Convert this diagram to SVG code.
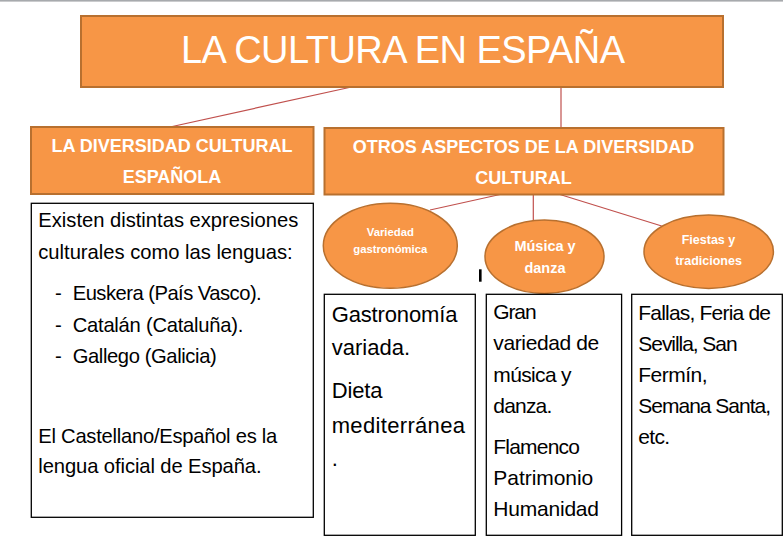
<svg xmlns="http://www.w3.org/2000/svg" width="783" height="549" viewBox="0 0 783 549">
<style>
.hdr{fill:#F79646;stroke:#B8702F;stroke-width:2}
.ell{fill:#F79646;stroke:#B8702F;stroke-width:1.5}
.box{fill:#FFFFFF;stroke:#000000;stroke-width:1.3}
.con line{stroke:#C0504D;stroke-width:1.2;fill:none}
.ht{font-family:"Liberation Sans",Arial,sans-serif;font-weight:bold;fill:#FFFFFF;text-anchor:middle}
.bt{font-family:"Liberation Sans",Arial,sans-serif;fill:#000000}
</style>
<rect x="0" y="0" width="783" height="549" fill="#FFFFFF"/>
<rect x="0" y="0" width="783" height="1.6" fill="#A7AAAD"/>
<g class="con" id="connectors">
<line x1="351.5" y1="87" x2="170" y2="127"/>
<line x1="561" y1="87" x2="561" y2="128"/>
<line x1="500" y1="194.5" x2="430" y2="210"/>
<line x1="533.3" y1="194.5" x2="533.3" y2="220"/>
<line x1="560" y1="194.5" x2="661.7" y2="226"/>
</g>
<g id="title">
<rect class="hdr" x="81" y="16" width="642" height="71"/>
<text x="403" y="63.3" font-family="Liberation Sans, Arial, sans-serif" font-size="38" fill="#FFFFFF" text-anchor="middle" textLength="444">LA CULTURA EN ESPAÑA</text>
</g>
<g id="diversidad">
<rect class="hdr" x="31" y="127" width="282.5" height="67"/>
<text class="ht" x="172" y="151.7" font-size="18">LA DIVERSIDAD CULTURAL</text>
<text class="ht" x="172" y="182.7" font-size="18">ESPAÑOLA</text>
</g>
<g id="otros">
<rect class="hdr" x="324.5" y="128" width="399" height="66.5"/>
<text class="ht" x="523.5" y="153" font-size="18">OTROS ASPECTOS DE LA DIVERSIDAD</text>
<text class="ht" x="523.5" y="184.3" font-size="18">CULTURAL</text>
</g>
<g id="gastronomia">
<ellipse class="ell" cx="390.3" cy="245.8" rx="67" ry="42.5"/>
<text class="ht" x="390.3" y="235.7" font-size="11.3">Variedad</text>
<text class="ht" x="390.3" y="252.7" font-size="11.3">gastronómica</text>
</g>
<g id="musica">
<ellipse class="ell" cx="544.5" cy="256.7" rx="59.5" ry="36.7"/>
<text class="ht" x="545" y="251" font-size="14.5">Música y</text>
<text class="ht" x="545" y="273.3" font-size="14.5">danza</text>
</g>
<g id="fiestas">
<ellipse class="ell" cx="708.7" cy="251.7" rx="64.7" ry="36.7"/>
<text class="ht" x="708.5" y="244.3" font-size="12.5">Fiestas y</text>
<text class="ht" x="708.5" y="265" font-size="12.5">tradiciones</text>
</g>
<rect x="479" y="269.3" width="2.6" height="12.4" fill="#000000"/>
<g id="lenguas">
<rect class="box" x="31.3" y="203.3" width="282" height="314"/>
<text class="bt" font-size="20.2" x="38.3" y="227.3" textLength="260">Existen distintas expresiones</text>
<text class="bt" font-size="20.2" x="38.3" y="259.3" textLength="254.3">culturales como las lenguas:</text>
<text class="bt" font-size="20.2" x="55" y="300">-</text>
<text class="bt" font-size="20.2" x="72.7" y="300" textLength="189">Euskera (País Vasco).</text>
<text class="bt" font-size="20.2" x="55" y="331.7">-</text>
<text class="bt" font-size="20.2" x="72.7" y="331.7" textLength="170.7">Catalán (Cataluña).</text>
<text class="bt" font-size="20.2" x="55" y="362.7">-</text>
<text class="bt" font-size="20.2" x="72.7" y="362.7" textLength="144">Gallego (Galicia)</text>
<text class="bt" font-size="20.2" x="38.3" y="443.3" textLength="239">El Castellano/Español es la</text>
<text class="bt" font-size="20.2" x="38.3" y="473.3" textLength="223.3">lengua oficial de España.</text>
</g>
<g id="gastro-box">
<rect class="box" x="324.3" y="294.3" width="151" height="241"/>
<text class="bt" font-size="22" x="331.7" y="322.3" textLength="125.7">Gastronomía</text>
<text class="bt" font-size="22" x="331.7" y="355" textLength="78.3">variada.</text>
<text class="bt" font-size="22" x="331.7" y="398.3" textLength="50.7">Dieta</text>
<text class="bt" font-size="22" x="331.7" y="432.7" textLength="133.3">mediterránea</text>
<text class="bt" font-size="22" x="331.7" y="466">.</text>
</g>
<g id="musica-box">
<rect class="box" x="486.3" y="294.3" width="135.3" height="241"/>
<text class="bt" font-size="21" x="493.3" y="319.3" textLength="43.3">Gran</text>
<text class="bt" font-size="21" x="493.3" y="350" textLength="106">variedad de</text>
<text class="bt" font-size="21" x="493.3" y="381.7" textLength="78.3">música y</text>
<text class="bt" font-size="21" x="493.3" y="412.7" textLength="59">danza.</text>
<text class="bt" font-size="21" x="493.3" y="454" textLength="86.7">Flamenco</text>
<text class="bt" font-size="21" x="493.3" y="485" textLength="100">Patrimonio</text>
<text class="bt" font-size="21" x="493.3" y="516" textLength="105.7">Humanidad</text>
</g>
<g id="fiestas-box">
<rect class="box" x="631.7" y="294.3" width="150.6" height="241"/>
<text class="bt" font-size="21" x="638.3" y="320" textLength="132.7">Fallas, Feria de</text>
<text class="bt" font-size="21" x="638.3" y="350.7" textLength="99.3">Sevilla, San</text>
<text class="bt" font-size="21" x="638.3" y="382" textLength="69.3">Fermín,</text>
<text class="bt" font-size="21" x="638.3" y="413.3" textLength="132.7">Semana Santa,</text>
<text class="bt" font-size="21" x="638.3" y="444.3" textLength="31.7">etc.</text>
</g>
</svg>
